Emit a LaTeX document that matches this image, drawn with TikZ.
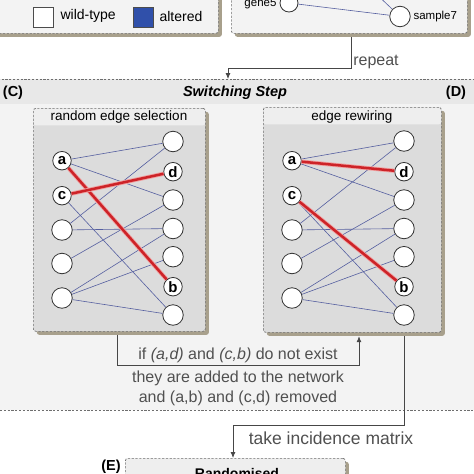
\documentclass[tikz,border=0pt]{standalone}
\usepackage{fontspec}
\setmainfont{Liberation Sans}
\usetikzlibrary{arrows.meta,shadows}
\definecolor{shc}{RGB}{168,160,140}
\definecolor{bordc}{RGB}{110,110,110}
\definecolor{outerc}{RGB}{243,243,243}
\definecolor{outerhdr}{RGB}{232,232,232}
\definecolor{bodyc}{RGB}{220,220,220}
\definecolor{hdrc}{RGB}{238,238,238}
\definecolor{edgec}{RGB}{85,95,160}
\definecolor{redc}{RGB}{205,35,40}
\definecolor{pinkc}{RGB}{240,160,160}
\definecolor{bluesq}{RGB}{48,80,170}
\definecolor{txtg}{RGB}{80,80,80}
\definecolor{connc}{RGB}{70,70,70}
\begin{document}
\begin{tikzpicture}[x=1pt,y=-1pt,
  panel/.style n args={2}{draw=bordc, dash pattern=on 2.2pt off 1.6pt, line width=0.7pt,
    rounded corners=2.5pt, fill=#1, inner sep=0pt, anchor=north west,
    drop shadow={shadow xshift=3.5pt, shadow yshift=-3.5pt, fill=shc, opacity=1},
    path picture={\fill[hdrc] (path picture bounding box.north west) rectangle ([yshift=-#2]path picture bounding box.north east);}},
  bigpanel/.style={draw=bordc, dash pattern=on 2.2pt off 1.6pt, line width=0.7pt,
    fill=outerc, inner sep=0pt, anchor=north west,
    path picture={\fill[outerhdr] (path picture bounding box.north west) rectangle ([yshift=-25pt]path picture bounding box.north east);}},
  vert/.style={circle, draw=black!80, line width=0.8pt, fill=white, minimum size=20.5pt, inner sep=0pt},
  lvert/.style={vert, minimum size=18.5pt, font=\bfseries\fontsize{15}{15}\selectfont},
  ed/.style={draw=edgec, line width=0.6pt},
  rd/.style={draw=redc, line width=2.5pt, preaction={draw=pinkc, line width=4.2pt}},
  conn/.style={draw=connc, line width=0.8pt},
  arr/.style={conn, -{Latex[length=6pt,width=5pt]}},
  gtext/.style={text=txtg, font=\fontsize{16}{18}\selectfont},
  ttl/.style={font=\fontsize{13.5}{15}\selectfont},
  sq/.style={draw=black!70, line width=0.6pt, minimum width=20pt, minimum height=20pt, inner sep=0pt}
]
\useasboundingbox (0,0) rectangle (474,474);
\fill[white] (0,0) rectangle (474,474);

% top-left legend box
\node[panel={outerc}{0pt}, minimum width=225pt, minimum height=40pt] (boxL) at (-7,-7) {};
\node[sq, fill=white] (sqw) at (43.5,17) {};
\node[anchor=west, font=\fontsize{14}{16}\selectfont] (tw) at (57,16) {wild-type};
\node[sq, fill=bluesq] (sqb) at (143.5,17) {};
\node[anchor=west, font=\fontsize{14}{16}\selectfont] (ta) at (156,16) {altered};

% top-right box
\node[panel={outerc}{0pt}, minimum width=236pt, minimum height=40pt] (boxTR) at (231,-7) {};
\node[vert, minimum size=18pt] (g5) at (289,3) {};
\node[anchor=east, font=\fontsize{11.5}{13}\selectfont] (g5t) at (280,4) {gene5};
\node[vert] (s7) at (400,16.5) {};
\node[anchor=west, font=\fontsize{11.5}{13}\selectfont] (s7t) at (410,16.5) {sample7};
\coordinate (s7up) at (372,-10);
\draw[ed] (g5) -- (s7);
\draw[ed] (s7up) -- (s7);

% repeat connector
\coordinate (rp1) at (351,68);
\coordinate (rp2) at (228,68);
\node[bigpanel, minimum width=490pt, minimum height=331pt] (boxSW) at (-8,79) {};
\draw[arr] ([yshift=-3.5pt]boxTR.south -| rp1) -- (rp1) -- (rp2) -- (rp2 |- boxSW.north);
\node[gtext] (rep) at (376,62) {repeat};

\node[font=\bfseries\fontsize{14.5}{16}\selectfont] (lc) at (13,93) {(C)};
\node[font=\bfseries\itshape\fontsize{14.5}{16}\selectfont] (lsw) at (235,93) {Switching Step};
\node[font=\bfseries\fontsize{14.5}{16}\selectfont] (ld) at (456,93) {(D)};

% box C
\node[panel={bodyc}{17pt}, minimum width=172pt, minimum height=223pt] (boxC) at (33,108) {};
\node[ttl] (tc) at (119,117) {random edge selection};
% box D
\node[panel={bodyc}{17pt}, minimum width=178pt, minimum height=225pt] (boxD) at (263,107) {};
\node[ttl] (td) at (352,117) {edge rewiring};

% C nodes
\node[lvert] (ca) at (62,160.7) {a};
\node[lvert] (cc) at (62,195.7) {c};
\node[vert] (cl3) at (62,230) {};
\node[vert] (cl4) at (62,263.5) {};
\node[vert] (cl5) at (62,298) {};
\node[vert] (cr1) at (173,141.5) {};
\node[lvert] (cd) at (173,171.7) {d};
\node[vert] (cr3) at (173,200) {};
\node[vert] (cr4) at (173,228.5) {};
\node[vert] (cr5) at (173,256.7) {};
\node[lvert] (cb) at (173,286.7) {b};
\node[vert] (cr7) at (173,315) {};
\draw[ed] (ca) -- (cr1);
\draw[ed] (ca) -- (cr3);
\draw[ed] (cc) -- (cr7);
\draw[ed] (cl3) -- (cr1);
\draw[ed] (cl3) -- (cr4);
\draw[ed] (cl4) -- (cr3);
\draw[ed] (cl5) -- (cr4);
\draw[ed] (cl5) -- (cr5);
\draw[ed] (cl5) -- (cr7);
\draw[rd] (ca) -- (cb);
\draw[rd] (cc) -- (cd);

% D nodes
\node[lvert] (da) at (292,160.7) {a};
\node[lvert] (dc) at (292,195.7) {c};
\node[vert] (dl3) at (292,230) {};
\node[vert] (dl4) at (292,263.5) {};
\node[vert] (dl5) at (292,298) {};
\node[vert] (dr1) at (404,141) {};
\node[lvert] (dd) at (404,171.7) {d};
\node[vert] (dr3) at (404,200) {};
\node[vert] (dr4) at (404,228.5) {};
\node[vert] (dr5) at (404,256.7) {};
\node[lvert] (db) at (404,286.7) {b};
\node[vert] (dr7) at (404,315) {};
\draw[ed] (da) -- (dr1);
\draw[ed] (da) -- (dr3);
\draw[ed] (dc) -- (dr7);
\draw[ed] (dl3) -- (dr1);
\draw[ed] (dl3) -- (dr4);
\draw[ed] (dl4) -- (dr3);
\draw[ed] (dl5) -- (dr4);
\draw[ed] (dl5) -- (dr5);
\draw[ed] (dl5) -- (dr7);
\draw[rd] (da) -- (dd);
\draw[rd] (dc) -- (db);

% C -> D connector
\coordinate (cd1) at (117,365);
\coordinate (cd2) at (359,365);
\draw[arr] ([yshift=-3.5pt]boxC.south -| cd1) -- (cd1) -- (cd2) -- ([yshift=-3.5pt]cd2 |- boxD.south);
\node[gtext] (if1) at (238,355) {if \textit{(a,d)} and \textit{(c,b)} do not exist};
\node[gtext] (if2) at (238,378) {they are added to the network};
\node[gtext] (if3) at (238,398) {and (a,b) and (c,d) removed};

% D -> E connector
\coordinate (de1) at (404,425);
\coordinate (de2) at (233,425);
\node[panel={outerc}{24pt}, minimum width=220pt, minimum height=80pt] (boxE) at (125,458) {};
\draw[arr] ([yshift=-3.5pt]boxD.south -| de1) -- (de1) -- (de2) -- (de2 |- boxE.north);
\node[gtext, font=\fontsize{17.5}{19}\selectfont] (tim) at (331,438) {take incidence matrix};
\node[font=\bfseries\fontsize{14.5}{16}\selectfont] (le) at (111,467) {(E)};
\node[font=\bfseries\fontsize{14}{16}\selectfont] (rnd) at (237,473) {Randomised};
\end{tikzpicture}
\end{document}
